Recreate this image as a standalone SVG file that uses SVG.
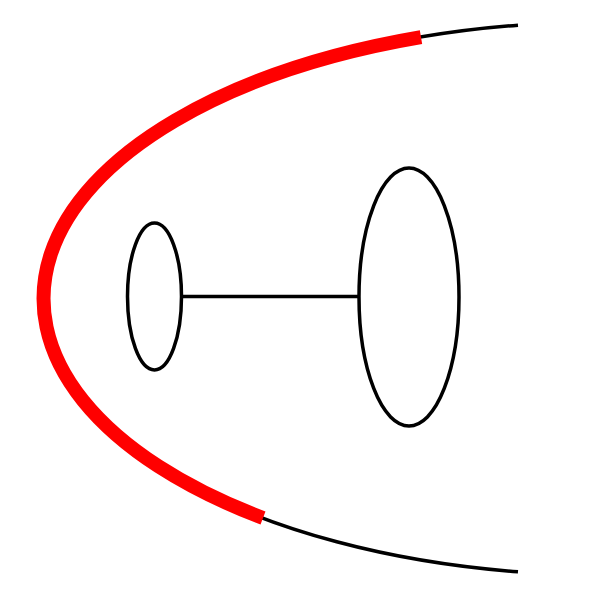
<svg xmlns="http://www.w3.org/2000/svg" width="600" height="601" viewBox="0 0 600 601">
<style>
.k{fill:none;stroke:#000;stroke-width:3.5}
.r{fill:none;stroke:#f00;stroke-width:14;stroke-linecap:butt}
</style>
<rect width="600" height="601" fill="#fff"/>
<g id="curve">
<path class="k" d="M518,25.2 A560,276.5 0 0 0 518,571.8"/>
<path class="r" d="M421,37.1 A560,276.5 0 0 0 263,518"/>
</g>
<g id="connectors">
<line class="k" x1="181.5" y1="296.5" x2="359" y2="296.5"/>
</g>
<g id="node-small">
<ellipse class="k" cx="154.5" cy="296.5" rx="27" ry="73.5"/>
</g>
<g id="node-large">
<ellipse class="k" cx="409" cy="297" rx="50" ry="129"/>
</g>
</svg>
